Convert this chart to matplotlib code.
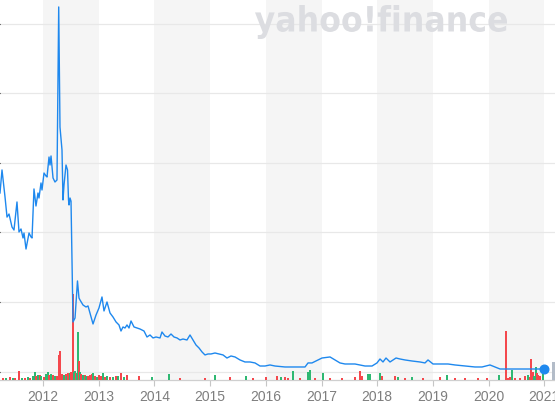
import matplotlib
matplotlib.use("Agg")
import matplotlib.pyplot as plt
from matplotlib.textpath import TextPath
from matplotlib.font_manager import FontProperties
from matplotlib.patches import PathPatch, Rectangle
import matplotlib.transforms as mtransforms

# ---------------- data ----------------
price_dates = [
    2011.228, 2011.264, 2011.318, 2011.354, 2011.390, 2011.443, 2011.479, 2011.533,
    2011.569, 2011.605, 2011.641, 2011.659, 2011.695, 2011.749, 2011.785, 2011.803,
    2011.838, 2011.874, 2011.910, 2011.928, 2011.964, 2011.982, 2012.018, 2012.054,
    2012.072, 2012.108, 2012.126, 2012.144, 2012.180, 2012.215, 2012.251, 2012.282,
    2012.305, 2012.341, 2012.359, 2012.377, 2012.413, 2012.440, 2012.458, 2012.467,
    2012.485, 2012.503, 2012.539, 2012.575, 2012.619, 2012.646, 2012.664, 2012.718,
    2012.772, 2012.808, 2012.862, 2012.898, 2012.952, 2013.005, 2013.059, 2013.095,
    2013.149, 2013.203, 2013.257, 2013.311, 2013.364, 2013.400, 2013.436, 2013.472,
    2013.508, 2013.544, 2013.580, 2013.634, 2013.688, 2013.741, 2013.813, 2013.867,
    2013.921, 2013.975, 2014.029, 2014.101, 2014.136, 2014.190, 2014.244, 2014.298,
    2014.352, 2014.406, 2014.460, 2014.513, 2014.585, 2014.639, 2014.693, 2014.747,
    2014.801, 2014.855, 2014.908, 2014.962, 2015.016, 2015.088, 2015.160, 2015.232,
    2015.303, 2015.375, 2015.447, 2015.537, 2015.626, 2015.716, 2015.806, 2015.896,
    2015.986, 2016.075, 2016.165, 2016.345, 2016.524, 2016.704, 2016.758, 2016.829,
    2017.009, 2017.153, 2017.242, 2017.332, 2017.422, 2017.601, 2017.781, 2017.907,
    2017.996, 2018.050, 2018.104, 2018.158, 2018.230, 2018.338, 2018.409, 2018.499,
    2018.625, 2018.768, 2018.858, 2018.912, 2019.002, 2019.127, 2019.271, 2019.397,
    2019.576, 2019.756, 2019.882, 2020.025, 2020.115, 2020.205, 2020.384, 2020.564,
    2020.743, 2020.923, 2020.995,
]
price_values = [
    25.66, 28.97, 25.09, 22.20, 22.64, 20.78, 20.34, 24.37,
    20.06, 20.49, 19.20, 19.91, 17.61, 19.91, 19.34, 19.20,
    26.24, 23.79, 25.66, 24.94, 27.10, 26.09, 28.53, 28.10,
    27.96, 30.83, 29.68, 30.98, 27.82, 27.24, 27.53, 52.39,
    35.13, 31.84, 24.66, 26.81, 29.68, 28.97, 24.66, 23.94,
    24.94, 24.48, 7.13, 7.70, 13.02, 10.57, 10.29, 9.57,
    9.28, 9.43, 7.84, 6.84, 8.13, 9.14, 10.72, 8.71,
    10.00, 8.42, 7.84, 7.13, 6.70, 5.83, 6.41, 6.26,
    6.70, 6.26, 7.27, 6.41, 6.26, 6.12, 5.83, 4.97,
    5.26, 4.83, 4.97, 4.83, 5.69, 5.11, 4.97, 5.40,
    4.97, 4.83, 4.54, 4.68, 4.54, 5.26, 4.54, 3.82,
    3.39, 2.82, 2.39, 2.53, 2.53, 2.67, 2.53, 2.39,
    1.95, 2.24, 2.10, 1.67, 1.38, 1.38, 1.24, 0.80,
    0.80, 0.95, 0.80, 0.66, 0.66, 0.66, 1.24, 1.24,
    1.95, 2.10, 1.67, 1.24, 1.09, 1.09, 0.80, 0.80,
    1.24, 1.81, 1.38, 1.95, 1.38, 1.95, 1.81, 1.67,
    1.52, 1.38, 1.24, 1.67, 1.09, 1.09, 1.09, 0.95,
    0.80, 0.66, 0.66, 0.95, 0.66, 0.37, 0.37, 0.37,
    0.37, 0.37, 0.37,
]

volume_dates = [
    2011.282, 2011.336, 2011.408, 2011.461, 2011.497, 2011.569, 2011.623, 2011.677,
    2011.731, 2011.767, 2011.820, 2011.856, 2011.874, 2011.910, 2011.946, 2011.964,
    2012.018, 2012.054, 2012.090, 2012.108, 2012.144, 2012.180, 2012.215, 2012.251,
    2012.287, 2012.305, 2012.341, 2012.377, 2012.413, 2012.431, 2012.449, 2012.485,
    2012.503, 2012.539, 2012.557, 2012.575, 2012.592, 2012.610, 2012.628, 2012.646,
    2012.664, 2012.682, 2012.718, 2012.754, 2012.772, 2012.808, 2012.844, 2012.880,
    2012.898, 2012.934, 2012.969, 2013.005, 2013.041, 2013.077, 2013.113, 2013.149,
    2013.203, 2013.257, 2013.311, 2013.346, 2013.400, 2013.454, 2013.508, 2013.724,
    2013.957, 2014.262, 2014.460, 2014.908, 2015.088, 2015.357, 2015.645, 2015.770,
    2016.004, 2016.201, 2016.273, 2016.345, 2016.399, 2016.488, 2016.614, 2016.758,
    2016.794, 2016.883, 2017.027, 2017.153, 2017.368, 2017.601, 2017.691, 2017.727,
    2017.835, 2017.871, 2018.050, 2018.086, 2018.320, 2018.373, 2018.499, 2018.625,
    2018.822, 2019.127, 2019.253, 2019.397, 2019.576, 2019.810, 2019.971, 2020.187,
    2020.312, 2020.348, 2020.384, 2020.420, 2020.474, 2020.564, 2020.653, 2020.707,
    2020.743, 2020.761, 2020.797, 2020.815, 2020.851, 2020.869, 2020.887, 2020.923,
    2020.977,
]
volume_values = [
    0.2, 0.2, 0.3, 0.2, 0.2, 0.9, 0.2, 0.2,
    0.3, 0.2, 0.4, 0.8, 0.4, 0.5, 0.5, 0.4,
    0.3, 0.6, 0.8, 0.5, 0.6, 0.5, 0.4, 0.4,
    2.5, 2.9, 0.6, 0.5, 0.6, 0.4, 0.7, 0.7,
    0.8, 8.6, 0.8, 0.9, 0.7, 0.7, 4.8, 1.9,
    0.8, 0.6, 0.5, 0.5, 0.4, 0.4, 0.5, 0.6,
    0.7, 0.4, 0.3, 0.5, 0.4, 0.7, 0.3, 0.4,
    0.3, 0.3, 0.4, 0.4, 0.7, 0.3, 0.5, 0.4,
    0.3, 0.6, 0.2, 0.2, 0.5, 0.3, 0.4, 0.2,
    0.3, 0.4, 0.3, 0.3, 0.2, 0.9, 0.2, 0.8,
    1.0, 0.2, 0.7, 0.2, 0.2, 0.3, 0.9, 0.4,
    0.6, 0.6, 0.7, 0.4, 0.4, 0.3, 0.2, 0.3,
    0.2, 0.3, 0.5, 0.2, 0.2, 0.2, 0.2, 0.5,
    4.9, 0.2, 0.3, 1.0, 0.2, 0.2, 0.4, 0.5,
    0.3, 2.1, 0.8, 0.4, 1.3, 0.7, 0.5, 0.4,
    0.6,
]
volume_dir = [
    "d", "u", "d", "u", "d", "d", "u", "d",
    "u", "d", "u", "u", "d", "u", "d", "u",
    "d", "u", "u", "d", "u", "d", "u", "d",
    "d", "d", "d", "u", "d", "u", "d", "u",
    "d", "d", "u", "u", "d", "u", "u", "d",
    "u", "d", "u", "d", "u", "d", "d", "d",
    "u", "d", "u", "d", "d", "u", "d", "u",
    "d", "u", "d", "u", "d", "u", "d", "d",
    "u", "u", "d", "d", "u", "d", "u", "d",
    "d", "d", "u", "d", "d", "u", "d", "u",
    "u", "d", "u", "d", "d", "d", "d", "d",
    "u", "u", "u", "d", "d", "u", "d", "u",
    "d", "d", "u", "d", "d", "d", "d", "u",
    "d", "d", "d", "u", "d", "d", "d", "u",
    "d", "d", "d", "u", "u", "d", "d", "d",
    "u",
]

year_ticks = [2012, 2013, 2014, 2015, 2016, 2017, 2018, 2019, 2020, 2021]
year_labels = ["2012", "2013", "2014", "2015", "2016", "2017", "2018", "2019", "2020", "2021"]
price_grid = [0, 10, 20, 30, 40, 50]

# ---------------- styling ----------------
W, H = 555, 403
DPI = 100
LINE = "#1e88ee"
UP = "#2fb872"
DOWN = "#f4484d"
BAND = "#f5f5f5"
GRID = "#e8e8e8"
TXT = "#7e7e7e"
plt.rcParams["font.family"] = ["Liberation Sans", "DejaVu Sans"]

fig = plt.figure(figsize=(W / DPI, H / DPI), dpi=DPI)
fig.patch.set_facecolor("white")

ax_bottom_px = 380
ax = fig.add_axes([0, (H - ax_bottom_px) / H, 1, ax_bottom_px / H])
xlim = (2011.228, 2021.192)
ylim = (-1.21, 53.39)
ax.set_xlim(*xlim)
ax.set_ylim(*ylim)

# alternating year bands
for y0 in range(2012, 2021, 2):
    ax.axvspan(y0, y0 + 1, color=BAND, lw=0, zorder=0)

ax.set_yticks(price_grid)
ax.yaxis.grid(True, color=GRID, lw=0.9, zorder=1)
ax.tick_params(axis="y", left=False, labelleft=False, right=False)
for s in ("top", "left", "right"):
    ax.spines[s].set_visible(False)
ax.spines["bottom"].set_color("#cfcfcf")
ax.spines["bottom"].set_linewidth(0.9)
ax.set_xticks(year_ticks)
ax.set_xticklabels(year_labels)
ax.tick_params(axis="x", length=4, width=0.8, color="#c6c6c6",
               labelcolor=TXT, labelsize=10, pad=3)
# partially visible 2011 label at the left edge
ax.text(2011, -13 / ax_bottom_px, "2011", transform=ax.get_xaxis_transform(),
        ha="center", va="top", color=TXT, fontsize=10, clip_on=False)

# volume
axv = ax.twinx()
axv.set_ylim(0, 38)
axv.set_xlim(*xlim)
vcolors = [UP if d == "u" else DOWN for d in volume_dir]
axv.bar(volume_dates, volume_values, width=0.024, color=vcolors, lw=0, zorder=2)
axv.axis("off")

# price
axp = ax.twinx()
axp.set_ylim(*ylim)
axp.set_xlim(*xlim)
axp.plot(price_dates, price_values, color=LINE, lw=1.0, solid_joinstyle="round", zorder=3)
axp.plot(price_dates[-1], price_values[-1], "o", color=LINE, ms=6.2, zorder=4)
axp.axis("off")

# watermark
tp = TextPath((0, 0), "yahoo!finance", size=36,
              prop=FontProperties(family="DejaVu Sans", weight="bold"))
ext = tp.get_extents()
x0, x1 = 255, 507
top_px, bot_px = 5, 39
sx = (x1 - x0) / ext.width
sy = (bot_px - top_px) / ext.height
tr = (mtransforms.Affine2D().translate(-ext.x0, -ext.y0)
      .scale(sx, sy).translate(x0, H - bot_px))
wm = PathPatch(tr.transform_path(tp), transform=mtransforms.IdentityTransform(),
               fc="#dcdde1", ec="none", zorder=5)
fig.add_artist(wm)

# small label edge at right
fig.add_artist(Rectangle((552, H - 380), 3, 18, transform=mtransforms.IdentityTransform(),
                         fc="#b3bcc8", ec="none", zorder=5))

fig.savefig("out.png", dpi=DPI)
